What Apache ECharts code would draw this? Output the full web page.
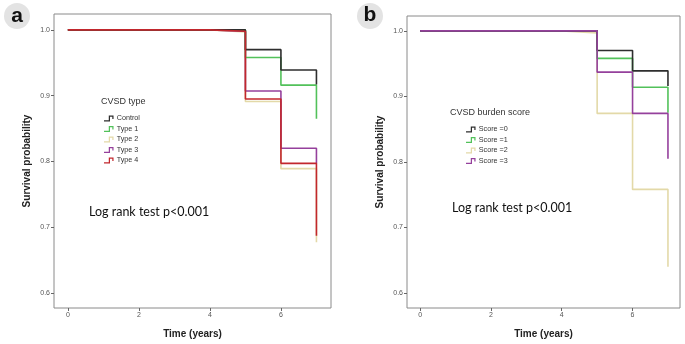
<!DOCTYPE html>
<html><head><meta charset="utf-8">
<script src="https://cdn.jsdelivr.net/npm/echarts@6/dist/echarts.min.js"></script>
<style>html,body{margin:0;padding:0;background:#fff}#c{width:685px;height:344px}</style>
</head><body><div id="c"></div>
<script>
// Time points (years) at which the survival estimate changes
const times = [0, 4, 5, 6, 7];
const xTicks = [0, 2, 4, 6];
const yTicks = [0.6, 0.7, 0.8, 0.9, 1.0];

// Panel a: CVSD type
const namesA = ['Control', 'Type 1', 'Type 2', 'Type 3', 'Type 4'];
const control = [1, 1, 0.970, 0.939, 0.917];
const type1   = [1, 1, 0.958, 0.916, 0.865];
const type2   = [1, 0.997, 0.891, 0.789, 0.677];
const type3   = [1, 0.998, 0.907, 0.820, 0.797];
const type4   = [1, 0.998, 0.895, 0.797, 0.687];

// Panel b: CVSD burden score
const namesB = ['Score =0', 'Score =1', 'Score =2', 'Score =3'];
const score0 = [1, 1, 0.970, 0.939, 0.916];
const score1 = [1, 1, 0.958, 0.914, 0.875];
const score2 = [1, 0.997, 0.874, 0.758, 0.640];
const score3 = [1, 1, 0.937, 0.874, 0.805];

const C = {black:'#2e2e2e', green:'#52c15a', tan:'#e3d9a8', purple:'#95409c', red:'#c2272d'};
const stepIcon = 'path://M0,8 L7,8 L7,1 L14,1 L14,6 L12.2,6 L12.2,2.8 L8.8,2.8 L8.8,9.8 L0,9.8 Z';

const chart = echarts.init(document.getElementById('c'), null, {renderer:'canvas'});

function xAx(gi){
  return {type:'value', gridIndex:gi, min: gi===0 ? -0.39 : -0.37, max: gi===0 ? 7.41 : 7.34,
    name:'Time (years)', nameLocation:'middle', nameGap:21,
    nameTextStyle:{fontFamily:'Liberation Sans', fontWeight:'bold', fontSize:10, color:'#222'},
    axisLine:{show:false, onZero:false}, splitLine:{show:false},
    axisTick:{show:true, length:3, customValues:xTicks, lineStyle:{color:'#666'}},
    axisLabel:{customValues:xTicks, fontSize:7, color:'#555', margin:4, fontFamily:'Liberation Sans'}};
}
function yAx(gi){
  return {type:'value', gridIndex:gi, min:0.577, max: gi===0 ? 1.0242 : 1.0227,
    name:'Survival probability', nameLocation:'middle', nameGap:22,
    nameTextStyle:{fontFamily:'Liberation Sans', fontWeight:'bold', fontSize:10, color:'#222'},
    axisLine:{show:false, onZero:false}, splitLine:{show:false},
    axisTick:{show:true, length:3, customValues:yTicks, lineStyle:{color:'#666'}},
    axisLabel:{customValues:yTicks, fontSize:7, color:'#555', margin:4, fontFamily:'Liberation Sans',
      formatter:v=>v.toFixed(1)}};
}
function ser(name, vals, color, gi){
  return {type:'line', name, step:'end', xAxisIndex:gi, yAxisIndex:gi, symbol:'none',
    data: times.map((t,i)=>[t, vals[i]]), lineStyle:{color, width:1.6}, itemStyle:{color},
    emphasis:{disabled:true}, silent:true, animation:false};
}
function leg(names, left, top){
  return {data:names, orient:'vertical', left, top, icon:stepIcon, itemWidth:14, itemHeight:6,
    itemGap:3.5, selectedMode:false, padding:0,
    textStyle:{fontSize:7.2, color:'#333', fontFamily:'Liberation Sans', padding:[0,0,0,-4]}};
}

chart.setOption({
  animation:false,
  backgroundColor:'#fff',
  grid:[
    {left:54, top:14, right:354, bottom:35, show:true, borderColor:'#8a8a8a', borderWidth:1, backgroundColor:'#fff'},
    {left:407, top:16, right:5, bottom:34, show:true, borderColor:'#8a8a8a', borderWidth:1, backgroundColor:'#fff'}
  ],
  xAxis:[xAx(0), xAx(1)],
  yAxis:[yAx(0), yAx(1)],
  legend:[leg(namesA, 104, 115), leg(namesB, 466, 126)],
  title:[
    {text:'CVSD type', left:101, top:97, padding:0, textStyle:{fontSize:9, fontWeight:'normal', color:'#333', fontFamily:'Liberation Sans'}},
    {text:'CVSD burden score', left:450, top:108, padding:0, textStyle:{fontSize:9, fontWeight:'normal', color:'#333', fontFamily:'Liberation Sans'}},
    {text:'Log rank test p<0.001', left:89, top:205, padding:0, textStyle:{fontSize:12.5, fontWeight:'normal', color:'#111', fontFamily:'Lato'}},
    {text:'Log rank test p<0.001', left:452, top:201, padding:0, textStyle:{fontSize:12.5, fontWeight:'normal', color:'#111', fontFamily:'Lato'}}
  ],
  graphic:[
    {type:'circle', shape:{cx:17, cy:16, r:13}, style:{fill:'#e3e3e3'}},
    {type:'text', x:17, y:16, style:{text:'a', fontSize:21, fontWeight:'bold', fill:'#111', align:'center', verticalAlign:'middle', fontFamily:'Liberation Sans'}},
    {type:'circle', shape:{cx:370, cy:16, r:13}, style:{fill:'#e3e3e3'}},
    {type:'text', x:370, y:15, style:{text:'b', fontSize:21, fontWeight:'bold', fill:'#111', align:'center', verticalAlign:'middle', fontFamily:'Liberation Sans'}}
  ],
  series:[
    ser('Type 2', type2, C.tan, 0),
    ser('Type 3', type3, C.purple, 0),
    ser('Type 1', type1, C.green, 0),
    ser('Control', control, C.black, 0),
    ser('Type 4', type4, C.red, 0),
    ser('Score =2', score2, C.tan, 1),
    ser('Score =1', score1, C.green, 1),
    ser('Score =0', score0, C.black, 1),
    ser('Score =3', score3, C.purple, 1)
  ]
});
</script></body></html>
